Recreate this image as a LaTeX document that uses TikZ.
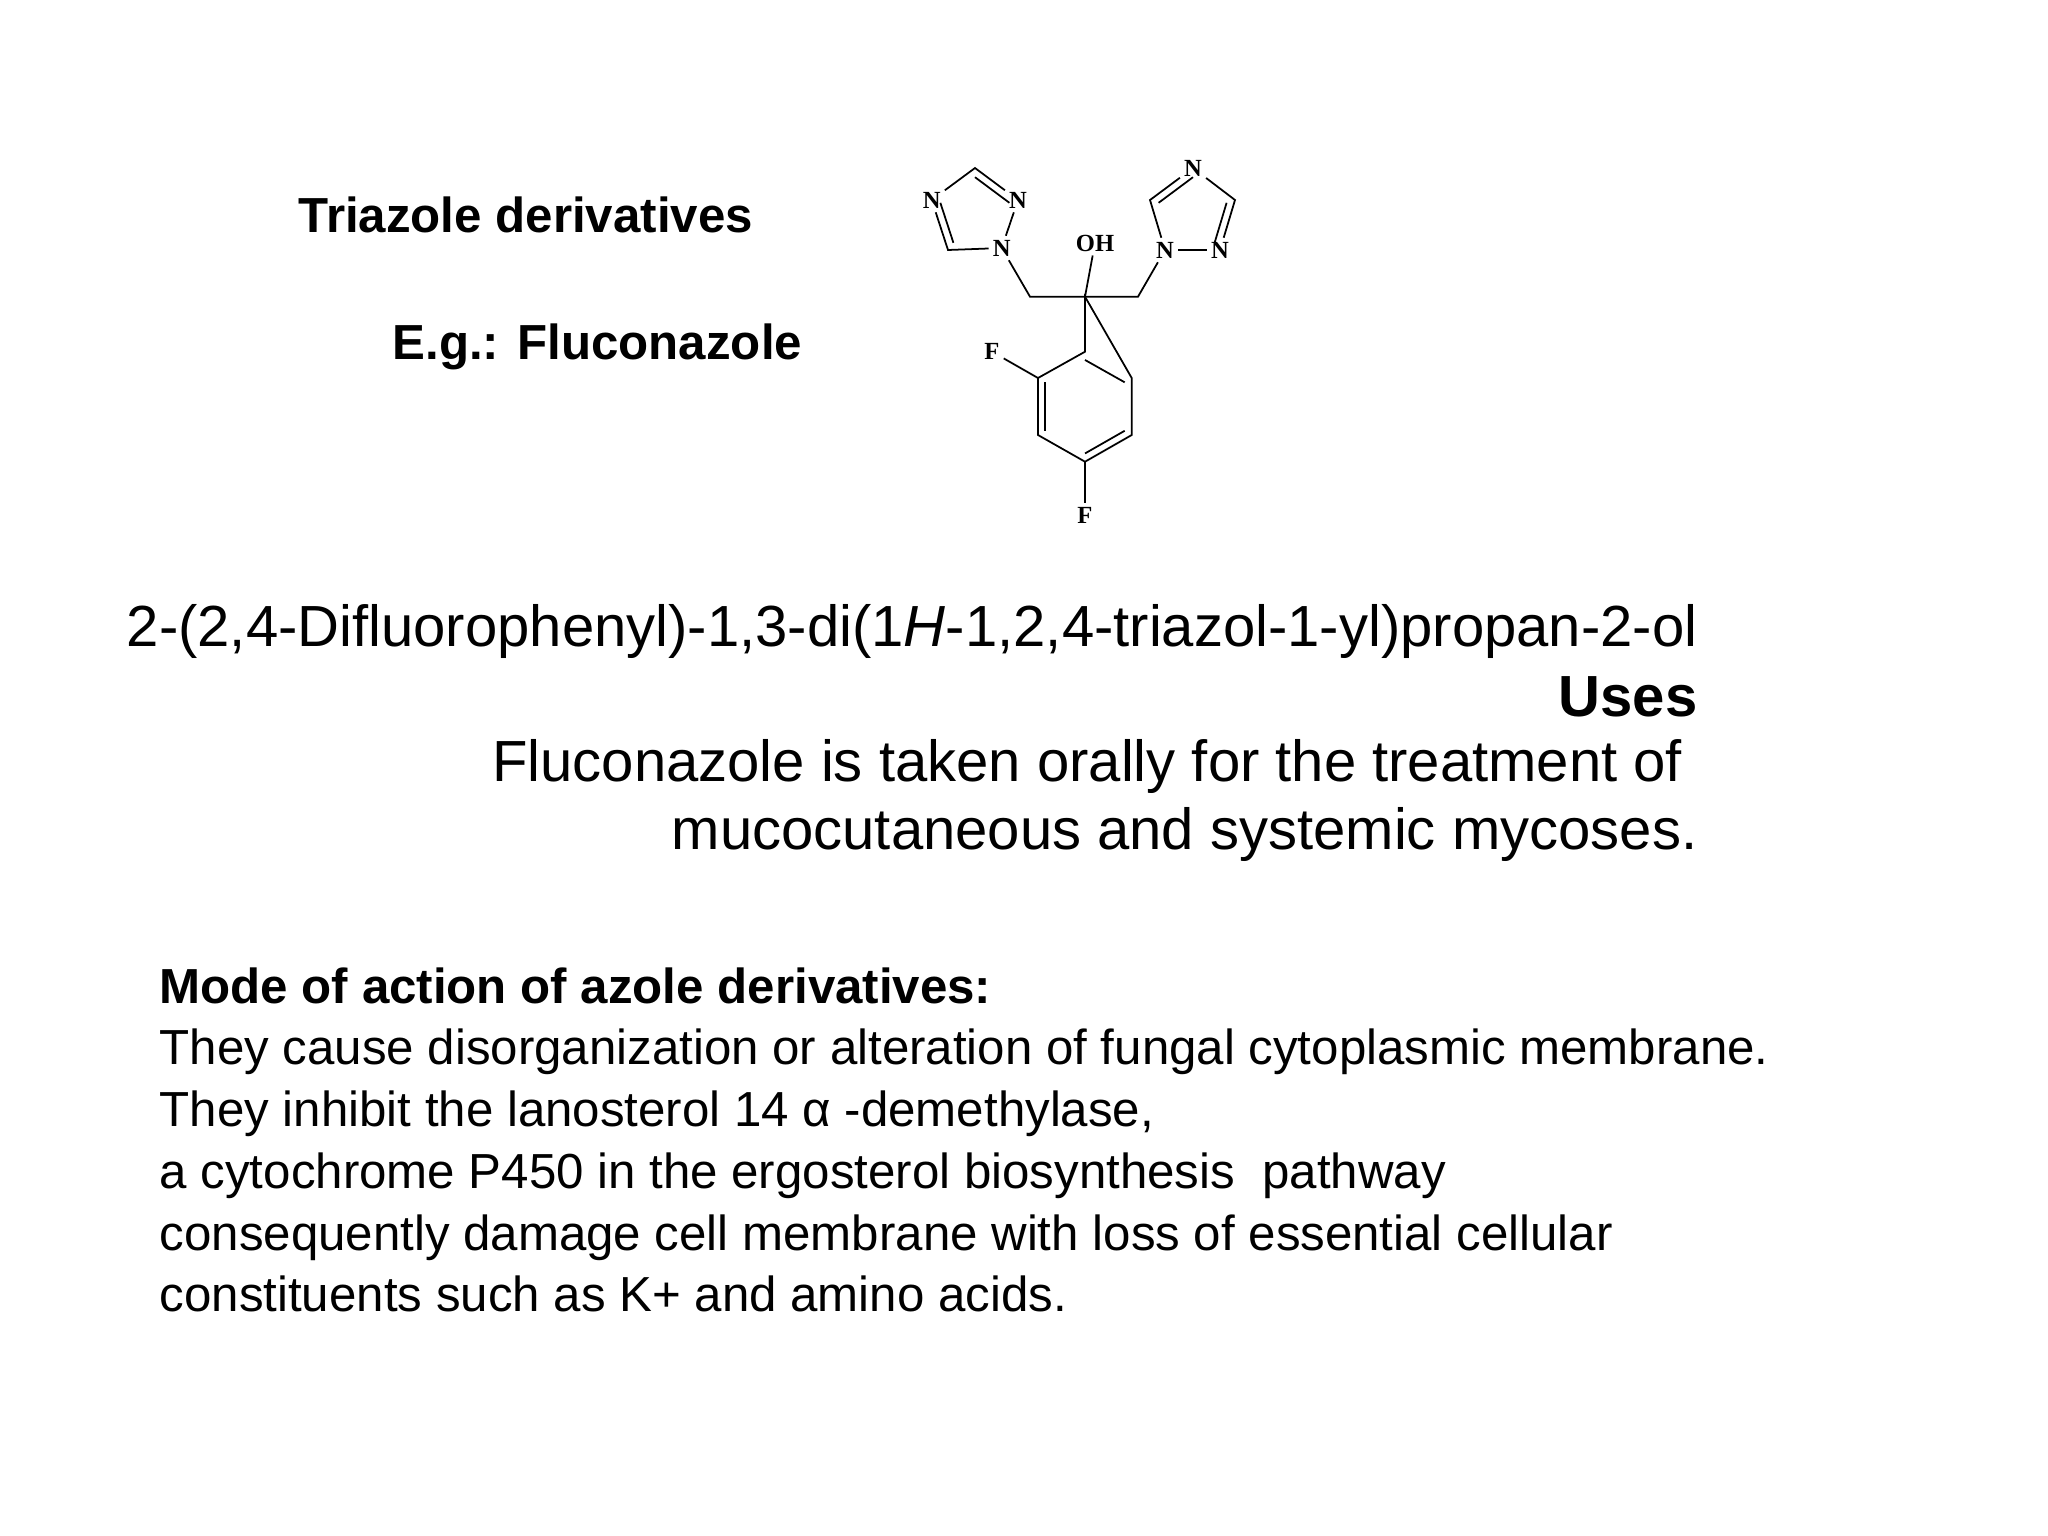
\documentclass[tikz,border=0pt]{standalone}
\usepackage{fontspec}
\setmainfont{Liberation Sans}
\newfontfamily\atomfont{Liberation Serif}
\usetikzlibrary{calc}
\tikzset{atom/.style={font=\atomfont\bfseries\fontsize{7}{8}\selectfont, inner sep=1pt},
  bond/.style={line width=0.5pt},
  txt/.style={inner sep=0pt, font=\fontsize{14}{16}\selectfont},
  bigtxt/.style={inner sep=0pt, font=\fontsize{16.5}{19}\selectfont},
  head/.style={inner sep=0pt, font=\bfseries\fontsize{14}{16}\selectfont}}
\begin{document}
\begin{tikzpicture}[x=0.01cm,y=-0.01cm]
\useasboundingbox[fill=white] (0,0) rectangle (2048,1536);

% headings
\node[head, anchor=base west] (hTri) at (298,232) {Triazole derivatives};
\node[head, anchor=base west] (hEg) at (392,359) {E.g.: Fluconazole};

% molecule: left triazole
\node[atom] (lN4) at (931.7,200) {N};
\coordinate (lC3) at (975,168);
\node[atom] (lN2) at (1018,200) {N};
\node[atom] (lN1) at (1001.7,248) {N};
\coordinate (lC5) at (948,250);
\coordinate (lctr) at (975,214);
% chain
\coordinate (cL) at (1030,296.7);
\coordinate (cM) at (1085,296.7);
\coordinate (cR) at (1138,296.7);
\node[atom] (oh) at (1095,243) {OH};
% right triazole
\node[atom] (rN1) at (1165,250) {N};
\node[atom] (rN2) at (1220,250) {N};
\coordinate (rC3) at (1235,200);
\node[atom] (rN4) at (1193,168) {N};
\coordinate (rC5) at (1150,200);
\coordinate (rctr) at (1193,214);
% phenyl ring
\coordinate (p1) at (1085,351.7);
\coordinate (p2) at (1038,378);
\coordinate (p3) at (1038,435);
\coordinate (p4) at (1085,461.7);
\coordinate (p5) at (1131.7,435);
\coordinate (p6) at (1131.7,378);
\coordinate (pctr) at (1085,406.7);
\node[atom] (fA) at (992,351.7) {F};
\node[atom] (fB) at (1085,515) {F};

\draw[bond] (lN4) -- (lC3) -- (lN2) -- (lN1) -- (lC5) -- (lN4);
\draw[bond] ($(lC3)!0.2!(lctr)$) -- ($(lN2)!0.2!(lctr)$);
\draw[bond] ($(lN4)!0.2!(lctr)$) -- ($(lC5)!0.2!(lctr)$);
\draw[bond] (lN1) -- (cL) -- (cM) -- (cR) -- (rN1);
\draw[bond] (cM) -- (oh);
\draw[bond] (rN1) -- (rN2) -- (rC3) -- (rN4) -- (rC5) -- (rN1);
\draw[bond] ($(rC5)!0.2!(rctr)$) -- ($(rN4)!0.2!(rctr)$);
\draw[bond] ($(rC3)!0.2!(rctr)$) -- ($(rN2)!0.2!(rctr)$);
\draw[bond] (cM) -- (p1) -- (p2) -- (p3) -- (p4) -- (p5) -- (p6) -- cycle;
\draw[bond] ($(p1)!0.15!(pctr)$) -- ($(p6)!0.15!(pctr)$);
\draw[bond] ($(p2)!0.15!(pctr)$) -- ($(p3)!0.15!(pctr)$);
\draw[bond] ($(p4)!0.15!(pctr)$) -- ($(p5)!0.15!(pctr)$);
\draw[bond] (p2) -- (fA);
\draw[bond] (p4) -- (fB);

% name and uses
\node[bigtxt, anchor=base east] (name) at (1698,646) {2-(2,4-Difluorophenyl)-1,3-di(1\textit{H}-1,2,4-triazol-1-yl)propan-2-ol};
\node[bigtxt, anchor=base east, font=\bfseries\fontsize{16.5}{19}\selectfont] (uses) at (1698,716) {Uses};
\node[bigtxt, anchor=base east] (use1) at (1683,781) {Fluconazole is taken orally for the treatment of};
\node[bigtxt, anchor=base east] (use2) at (1698,849) {mucocutaneous and systemic mycoses.};

% mode of action
\node[head, anchor=base west] (mode) at (159,1003) {Mode of action of azole derivatives:};
\node[txt, anchor=base west] (m1) at (159,1064) {They cause disorganization or alteration of fungal cytoplasmic membrane.};
\node[txt, anchor=base west] (m2) at (159,1126) {They inhibit the lanosterol 14 α -demethylase,};
\node[txt, anchor=base west] (m3) at (159,1188) {a cytochrome P450 in the ergosterol biosynthesis\ \ pathway};
\node[txt, anchor=base west] (m4) at (159,1250) {consequently damage cell membrane with loss of essential cellular};
\node[txt, anchor=base west] (m5) at (159,1311) {constituents such as K+ and amino acids.};
\end{tikzpicture}
\end{document}
